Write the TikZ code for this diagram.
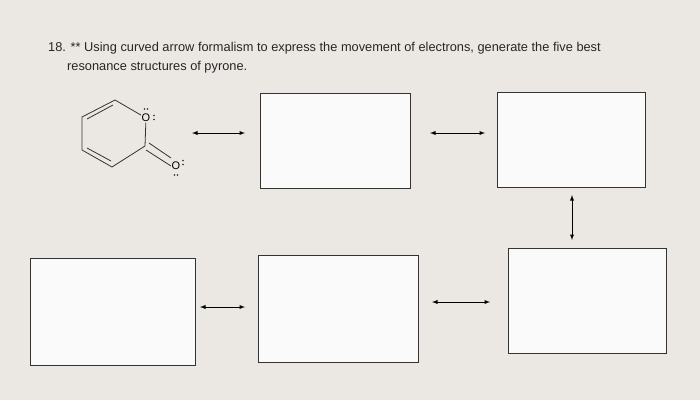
\documentclass[tikz,border=0pt]{standalone}
\usepackage{fontspec}
\setmainfont{Liberation Sans}
\begin{document}
\begin{tikzpicture}[x=1pt,y=-1pt,
  ansbox/.style={draw=black!80,line width=1pt,fill=white!96!gray},
  dbl/.style={<->,>=latex,line width=0.9pt},
  bond/.style={line width=0.8pt,black!80},
  dot/.style={fill=black!85,circle,inner sep=0,minimum size=1.6pt},
  atom/.style={inner sep=0.5pt,font=\fontsize{11}{12}\selectfont},
  txt/.style={anchor=west,font=\fontsize{12.8}{14}\selectfont,text=black!85,inner sep=0}]
\fill[black!7!white!95!brown] (0,0) rectangle (700,400);
\useasboundingbox (0,0) rectangle (700,400);
\node[txt] (l1) at (48,48) {18. ** Using curved arrow formalism to express the movement of electrons, generate the five best};
\node[txt] (l2) at (67,67) {resonance structures of pyrone.};
% molecule
\coordinate (a) at (115,100);
\node[atom] (o1) at (146,118) {O};
\coordinate (c2) at (145,146);
\coordinate (d) at (112,167);
\coordinate (e) at (82,150);
\coordinate (f) at (82,117);
\node[atom] (o2) at (176,166) {O};
\node[dot] at (144.5,109) {}; \node[dot] at (147.5,109) {};
\node[dot] at (154,115.5) {}; \node[dot] at (154,119.5) {};
\node[dot] at (183,160.5) {}; \node[dot] at (183,164.5) {};
\node[dot] at (174.5,175) {}; \node[dot] at (177.5,175) {};
\draw[bond] (a)--(o1);
\draw[bond] (o1)--(c2)--(d)--(e)--(f)--(a);
\draw[bond] (113,105)--(87,119);
\draw[bond] (87,148)--(111,161);
\draw[bond] (146,150)--(o2.west);
\draw[bond] (149,143)--(171,158);
% boxes
\node[ansbox,minimum width=150,minimum height=95,anchor=north west] (b1) at (260,93) {};
\node[ansbox,minimum width=148,minimum height=95,anchor=north west] (b2) at (497,92) {};
\node[ansbox,minimum width=165,minimum height=107,anchor=north west] (b3) at (30,258) {};
\node[ansbox,minimum width=160,minimum height=107,anchor=north west] (b4) at (258,255) {};
\node[ansbox,minimum width=158,minimum height=105,anchor=north west] (b5) at (508,248) {};
\draw[dbl] (192,133)--(245,133);
\draw[dbl] (430,133)--(485,133);
\draw[dbl] (572,195)--(572,240);
\draw[dbl] (200,307)--(245,307);
\draw[dbl] (432,302)--(490,302);
\end{tikzpicture}
\end{document}
